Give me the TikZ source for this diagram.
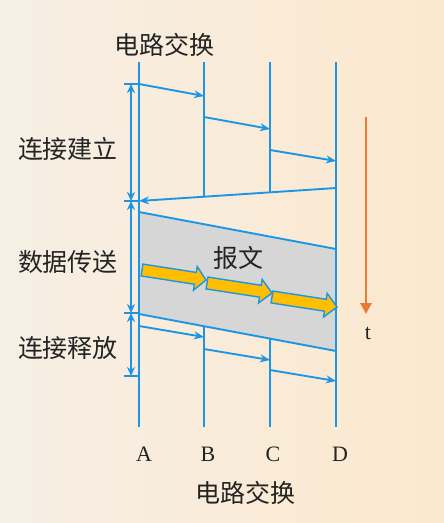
\documentclass[tikz,border=0pt]{standalone}
\usepackage{fontspec}
\newfontfamily\cjk{Noto Sans CJK SC}
\newfontfamily\lserif{Liberation Serif}
\usetikzlibrary{arrows.meta,calc}
\definecolor{bline}{RGB}{28,150,228}
\definecolor{txt}{RGB}{35,35,35}
\definecolor{fatyellow}{RGB}{255,190,0}
\definecolor{tarrow}{RGB}{232,122,52}
\definecolor{grayfill}{RGB}{214,214,214}
\definecolor{bgA}{RGB}{246,239,229}
\definecolor{bgB}{RGB}{252,232,206}
\newcommand\fatarr[2]{%
  \filldraw[fatstyle]
    ($(#1)!6pt!-90:(#2)$) --
    ($($(#1)!54pt!(#2)$)!6pt!90:(#1)$) --
    ($($(#1)!54pt!(#2)$)!12pt!90:(#1)$) --
    (#2) --
    ($($(#1)!54pt!(#2)$)!12pt!-90:(#1)$) --
    ($($(#1)!54pt!(#2)$)!6pt!-90:(#1)$) --
    ($(#1)!6pt!90:(#2)$) -- cycle;}
\begin{document}
\begin{tikzpicture}[x=1pt,y=-1pt,
  life/.style={bline, line width=2.1pt},
  msg/.style={bline, line width=1.9pt, -{Stealth[length=10pt,width=8pt]}},
  dimarrow/.style={bline, line width=1.9pt, {Stealth[length=9pt,width=8pt]}-{Stealth[length=9pt,width=8pt]}},
  tickline/.style={bline, line width=1.9pt},
  fatstyle/.style={draw=bline, fill=fatyellow, line width=1.4pt, line join=miter},
  cjklabel/.style={font=\cjk\fontsize{25}{25}\selectfont, text=txt, inner sep=0},
  letter/.style={font=\lserif\fontsize{22}{22}\selectfont, text=txt, inner sep=0}]
\useasboundingbox (0,0) rectangle (444,523);
\shade[left color=bgA, right color=bgB] (0,0) rectangle (444,523);

% key points
\coordinate (Atop) at (139,62);   \coordinate (Abot) at (139,427);
\coordinate (Btop) at (204,62);   \coordinate (Bbot) at (204,427);
\coordinate (Ctop) at (270,62);   \coordinate (Cbot) at (270,427);
\coordinate (Dtop) at (336,62);   \coordinate (Dbot) at (336,427);

% gray data region
\coordinate (G1) at (139,212); \coordinate (G2) at (336,249);
\coordinate (G3) at (336,351); \coordinate (G4) at (139,314);
\fill[grayfill] (G1) -- (G2) -- (G3) -- (G4) -- cycle;
\draw[tickline] (G1) -- (G2);
\draw[tickline] (G4) -- (G3);

% lifelines
\coordinate (Bend) at (204,196.7); \coordinate (Bstart) at (204,326.2);
\coordinate (Cend) at (270,192.4); \coordinate (Cstart) at (270,338.6);
\draw[life] (Atop) -- (Abot);
\draw[life] (Btop) -- (Bend);
\draw[life] (Bstart) -- (Bbot);
\draw[life] (Ctop) -- (Cend);
\draw[life] (Cstart) -- (Cbot);
\draw[life] (Dtop) -- (Dbot);

% connection setup
\coordinate (s1) at (139,84);  \coordinate (e1) at (204,96);
\coordinate (s2) at (204,117); \coordinate (e2) at (270,129);
\coordinate (s3) at (270,150); \coordinate (e3) at (336,161);
\coordinate (s4) at (336,188); \coordinate (e4) at (139,201);
\draw[msg] (s1) -- (e1);
\draw[msg] (s2) -- (e2);
\draw[msg] (s3) -- (e3);
\draw[msg] (s4) -- (e4);

% release
\coordinate (r1) at (139,326); \coordinate (f1) at (204,337);
\coordinate (r2) at (204,349); \coordinate (f2) at (270,360);
\coordinate (r3) at (270,370); \coordinate (f3) at (336,381);
\draw[msg] (r1) -- (f1);
\draw[msg] (r2) -- (f2);
\draw[msg] (r3) -- (f3);

% fat message arrows
\coordinate (m1s) at (142,270); \coordinate (m1e) at (206,280);
\coordinate (m2s) at (207,283); \coordinate (m2e) at (272,293);
\coordinate (m3s) at (272,297); \coordinate (m3e) at (337,307);
\fatarr{m1s}{m1e}
\fatarr{m2s}{m2e}
\fatarr{m3s}{m3e}

% dimension marks
\coordinate (k1) at (139,84);  \coordinate (k1l) at (124,84);
\coordinate (k2) at (139,201); \coordinate (k2l) at (124,201);
\coordinate (k3) at (139,313); \coordinate (k3l) at (124,313);
\coordinate (k4) at (139,376); \coordinate (k4l) at (124,376);
\draw[tickline] (k1l) -- (k1);
\draw[tickline] (k2l) -- (k2);
\draw[tickline] (k3l) -- (k3);
\draw[tickline] (k4l) -- (k4);
\coordinate (d1) at (131,84); \coordinate (d2) at (131,201);
\coordinate (d3) at (131,313); \coordinate (d4) at (131,376);
\draw[dimarrow] (d1) -- (d2);
\draw[dimarrow] (d2) -- (d3);
\draw[dimarrow] (d3) -- (d4);

% time arrow
\coordinate (t1) at (366,117); \coordinate (t2) at (366,314);
\draw[tarrow, line width=2.6pt, -{Triangle[length=11pt,width=11pt]}] (t1) -- (t2);
\node[letter] (tl) at (368,333) {t};

% labels
\node[cjklabel] (title) at (164,45) {电路交换};
\node[cjklabel] (lab1) at (68,149) {连接建立};
\node[cjklabel] (lab2) at (68,262) {数据传送};
\node[cjklabel] (lab3) at (68,348) {连接释放};
\node[cjklabel] (msgl) at (238,258) {报文};
\node[letter] (LA) at (144,454) {A};
\node[letter] (LB) at (208,454) {B};
\node[letter] (LC) at (273,454) {C};
\node[letter] (LD) at (340,454) {D};
\node[cjklabel] (bottom) at (245,493) {电路交换};
\end{tikzpicture}
\end{document}
